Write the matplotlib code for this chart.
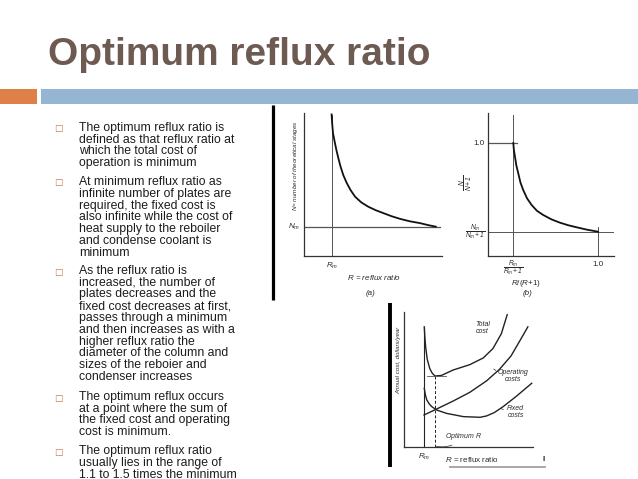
import matplotlib
matplotlib.use("Agg")
import matplotlib.pyplot as plt
from matplotlib.patches import Rectangle

plt.rcParams['font.family'] = ['Liberation Sans', 'DejaVu Sans']
plt.rcParams['mathtext.fontset'] = 'custom'
plt.rcParams['mathtext.it'] = 'Liberation Sans:italic'
plt.rcParams['mathtext.rm'] = 'Liberation Sans:italic'

W, H = 638, 479

title = "Optimum reflux ratio"

bullets = [
    ["The optimum reflux ratio is",
     "defined as that reflux ratio at",
     "which the total cost of",
     "operation is minimum"],
    ["At minimum reflux ratio as",
     "infinite number of plates are",
     "required, the fixed cost is",
     "also infinite while the cost of",
     "heat supply to the reboiler",
     "and condense coolant is",
     "minimum"],
    ["As the reflux ratio is",
     "increased, the number of",
     "plates decreases and the",
     "fixed cost decreases at first,",
     "passes through a minimum",
     "and then increases as with a",
     "higher reflux ratio the",
     "diameter of the column and",
     "sizes of the reboier and",
     "condenser increases"],
    ["The optimum reflux occurs",
     "at a point where the sum of",
     "the fixed cost and operating",
     "cost is minimum."],
    ["The optimum reflux ratio",
     "usually lies in the range of",
     "1.1 to 1.5 times the minimum"],
]
bullet_top = [128, 182, 271, 397, 451]

# (a) number of stages vs reflux ratio
R_min_a = 2.0
N_min_a = 2.0
R_a = [2.0, 2.04, 2.1, 2.22, 2.35, 2.5, 2.65, 2.85, 3.1, 3.38, 3.7, 4.15, 4.65,
       5.2, 5.75, 6.35, 6.95, 7.65, 8.4, 9.0, 9.55]
N_a = [9.9, 9.3, 8.6, 8.0, 7.4, 6.8, 6.25, 5.65, 5.1, 4.6, 4.15, 3.75, 3.45,
       3.2, 3.0, 2.78, 2.6, 2.43, 2.3, 2.16, 2.05]

# (b) N/(N+1) vs R/(R+1)
r_min_b = 0.23
n_min_b = 0.215
r_b = [0.23, 0.235, 0.245, 0.258, 0.275, 0.295, 0.32, 0.355, 0.397, 0.445,
       0.502, 0.575, 0.654, 0.73, 0.806, 0.9, 1.0]
n_b = [1.0, 0.94, 0.879, 0.80, 0.732, 0.65, 0.584, 0.51, 0.451, 0.40,
       0.363, 0.325, 0.295, 0.272, 0.254, 0.233, 0.215]

# (c) annual cost vs reflux ratio
R_min_c = 1.55
R_opt_c = 2.4
cost_opt = 5.26
R_total = [1.57, 1.62, 1.68, 1.8, 2.0, 2.2, 2.4, 2.9, 3.8, 5.1, 6.15, 6.9, 7.55, 8.0]
total = [8.9, 8.1, 7.4, 6.5, 5.8, 5.45, 5.26, 5.3, 5.7, 6.1, 6.6, 7.3, 8.4, 9.8]
R_oper = [1.55, 2.5, 3.8, 5.1, 6.4, 7.4, 8.3, 9.0, 9.6]
oper = [2.37, 2.8, 3.4, 4.05, 4.9, 5.75, 6.75, 7.9, 8.9]
R_fixed = [1.57, 1.66, 1.76, 1.95, 2.14, 2.53, 3.3, 4.6, 5.9, 6.4, 7.0, 7.7, 8.7, 9.9]
fixed = [4.35, 3.85, 3.5, 3.2, 3.0, 2.74, 2.49, 2.25, 2.2, 2.3, 2.55, 3.0, 3.75, 4.72]

ink = '#2a2a2a'
soft = '#555555'

fig = plt.figure(figsize=(W / 100, H / 100), dpi=100)
bg = fig.add_axes([0, 0, 1, 1])
bg.set_xlim(0, W)
bg.set_ylim(H, 0)
bg.axis('off')

# title and header bars
bg.text(48, 65, title, fontsize=28, fontweight='bold', color='#6d5a52', va='baseline')
bg.add_patch(Rectangle((0, 89), 37, 15, color='#dd8148', lw=0))
bg.add_patch(Rectangle((41, 89), W - 41, 15, color='#94b6d2', lw=0))

# bullet text
step = 11.75
for lines, y0 in zip(bullets, bullet_top):
    bg.text(58, y0 + 1, '\u25a1', fontsize=6.5, color='#c27c58',
            family='DejaVu Sans', ha='center', va='center')
    for i, line in enumerate(lines):
        bg.text(79, y0 + i * step, line, fontsize=8.8, color='#1c1c1c', va='center')

# scanned figure borders
bg.plot([273, 273], [105, 300], color='black', lw=2.3, solid_capstyle='butt')
bg.plot([390, 390], [303, 467], color='black', lw=2.8, solid_capstyle='butt')
bg.plot([450, 545], [467, 467], color='#a0a0a0', lw=1.3)


def box(left, top, right, bottom):
    a = fig.add_axes([left / W, 1 - bottom / H, (right - left) / W, (bottom - top) / H])
    a.patch.set_alpha(0)
    for s in ['top', 'right']:
        a.spines[s].set_visible(False)
    for s in ['left', 'bottom']:
        a.spines[s].set_color('#333333')
        a.spines[s].set_linewidth(0.9)
    a.set_xticks([])
    a.set_yticks([])
    return a


small = dict(fontsize=5.8, color=ink, clip_on=False)
frac = dict(fontsize=4.8, color=ink, clip_on=False)

# ---- (a)
ax = box(304, 113, 442, 256)
ax.set_xlim(0, 10)
ax.set_ylim(0, 10)
ax.plot([R_min_a, R_min_a], [0, 9.86], color=soft, lw=0.7)
ax.plot([0, 9.86], [N_min_a, N_min_a], color=soft, lw=0.9)
ax.plot(R_a, N_a, color='#111111', lw=1.3)
ax.text(-0.25, N_min_a, r'$N_m$', ha='right', va='center', **small)
ax.text(R_min_a, -0.35, r'$R_m$', ha='center', va='top', **small)
ax.text(5.1, -1.5, r'$R$ = reflux ratio', ha='center', va='center', style='italic', **small)
ax.text(4.8, -2.6, '(a)', ha='center', va='center', style='italic', **small)
ax.text(-0.65, 6.35, r'$N$= number of theoretical stages', rotation=90, ha='center',
        va='center', style='italic', fontsize=4.5, color=ink, clip_on=False)

# ---- (b)
bx = box(488, 113, 614, 256)
bx.set_xlim(0, 1.145)
bx.set_ylim(0, 1.266)
bx.plot([r_min_b, r_min_b], [0, 1.248], color=soft, lw=0.7)
bx.plot([0, 0.26], [1.0, 1.0], color=soft, lw=0.9)
bx.plot([0, 1.133], [n_min_b, n_min_b], color=soft, lw=0.7)
bx.plot([1.0, 1.0], [0, 0.26], color=soft, lw=0.7)
bx.plot(r_b, n_b, color='#111111', lw=1.3)
bx.text(-0.03, 1.0, '1.0', ha='right', va='center', **small)
bx.text(-0.02, n_min_b, r'$\dfrac{N_m}{N_m+1}$', ha='right', va='center', **frac)
bx.text(r_min_b, -0.02, r'$\dfrac{R_m}{R_m+1}$', ha='center', va='top', **frac)
bx.text(1.0, -0.04, '1.0', ha='center', va='top', **small)
bx.text(0.34, -0.24, r'$R$/($R$+1)', ha='center', va='center', **small)
bx.text(0.355, -0.33, '(b)', ha='center', va='center', style='italic', **small)
bx.text(-0.2, 0.646, r'$\dfrac{N}{N+1}$', rotation=90, ha='center', va='center', **frac)

# ---- (c)
cx = box(404, 312, 533, 447)
cx.set_xlim(0, 10)
cx.set_ylim(0, 10)
cx.plot([R_min_c, R_min_c], [0, 8.9], color='#222222', lw=0.8)
cx.plot(R_total, total, color='#222222', lw=1.0)
cx.plot(R_oper, oper, color='#222222', lw=1.0)
cx.plot(R_fixed, fixed, color='#222222', lw=1.0)
cx.plot([R_opt_c, R_opt_c], [0, cost_opt], color='#222222', lw=0.7, ls=(0, (3, 2)))
cx.plot([1.78, 3.26], [cost_opt, cost_opt], color=soft, lw=0.6)
lab = dict(ha='center', va='center', linespacing=0.9, style='italic', fontsize=5.0, color=ink)
cx.text(6.1, 8.8, 'Total\ncost', **lab)
cx.text(8.45, 5.25, 'Operating\ncosts', **lab)
cx.text(8.65, 2.6, 'Fixed\ncosts', **lab)
cx.annotate('', xy=(6.95, 5.78), xytext=(7.3, 5.55),
            arrowprops=dict(arrowstyle='-', lw=0.5, color=ink))
cx.annotate('', xy=(7.5, 2.85), xytext=(7.9, 2.7),
            arrowprops=dict(arrowstyle='-', lw=0.5, color=ink))
cx.annotate('Optimum $R$', xy=(R_opt_c + 0.1, 0.05), xytext=(3.15, 0.8),
            ha='left', va='center', style='italic', fontsize=5.0, color=ink,
            arrowprops=dict(arrowstyle='-', lw=0.5, color=ink,
                            connectionstyle='arc3,rad=-0.3', shrinkA=1, shrinkB=0))
cx.text(R_min_c, -0.35, r'$R_m$', ha='center', va='top', **small)
cx.text(5.3, -0.95, r'$R$ = reflux ratio', ha='center', va='center', **small)
cx.text(10.85, -0.95, 'I', ha='center', va='center', fontsize=6, fontweight='bold',
        color=ink, clip_on=False)
cx.text(-0.4, 6.4, 'Annual cost, dollars/year', rotation=90, ha='center',
        va='center', style='italic', fontsize=4.4, color=ink, clip_on=False)

fig.savefig('out.png', dpi=100)
